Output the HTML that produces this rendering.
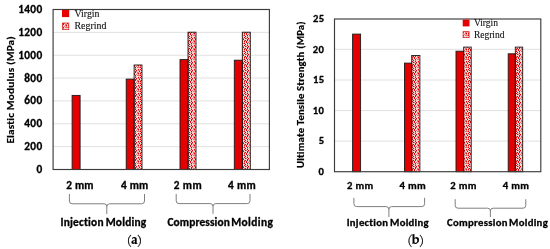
<!DOCTYPE html>
<html><head><meta charset="utf-8"><style>
html,body{margin:0;padding:0;background:#fff;}
svg{display:block;}
.b{font-family:Carlito,"Liberation Sans",sans-serif;font-weight:bold;fill:#000;stroke:#000;stroke-width:0.3px;font-variant-ligatures:none;font-feature-settings:"liga" 0,"clig" 0;}
.t{stroke-width:0.2px;}
.s{font-family:"Liberation Serif",serif;fill:#111;stroke:#111;stroke-width:0.12px;}
.p{font-family:"TeX Gyre Pagella","Liberation Serif",serif;fill:#000;letter-spacing:-1.1px;stroke:#000;stroke-width:0.2px;}
.p tspan{font-weight:bold;font-size:1.08em;}
</style></head><body>
<svg width="550" height="249" viewBox="0 0 550 249">
<defs>
<pattern id="rg" width="8" height="8" patternUnits="userSpaceOnUse">
<rect width="8" height="8" fill="#f9d3d3"/><rect x="1" y="0" width="1" height="1" fill="#ee7272"/><rect x="2" y="0" width="1" height="1" fill="#ee7272"/><rect x="4" y="0" width="1" height="1" fill="#ee7272"/><rect x="5" y="0" width="1" height="1" fill="#e40000"/><rect x="7" y="0" width="1" height="1" fill="#e40000"/><rect x="1" y="1" width="1" height="1" fill="#ee7272"/><rect x="2" y="1" width="1" height="1" fill="#e40000"/><rect x="4" y="1" width="1" height="1" fill="#e40000"/><rect x="6" y="1" width="1" height="1" fill="#e40000"/><rect x="0" y="2" width="1" height="1" fill="#ee7272"/><rect x="2" y="2" width="1" height="1" fill="#ee7272"/><rect x="4" y="2" width="1" height="1" fill="#ee7272"/><rect x="6" y="2" width="1" height="1" fill="#e40000"/><rect x="1" y="3" width="1" height="1" fill="#ee7272"/><rect x="2" y="3" width="1" height="1" fill="#ee7272"/><rect x="3" y="3" width="1" height="1" fill="#ee7272"/><rect x="4" y="3" width="1" height="1" fill="#e40000"/><rect x="7" y="3" width="1" height="1" fill="#e40000"/><rect x="5" y="4" width="1" height="1" fill="#e40000"/><rect x="7" y="4" width="1" height="1" fill="#ee7272"/><rect x="2" y="5" width="1" height="1" fill="#e40000"/><rect x="4" y="5" width="1" height="1" fill="#e40000"/><rect x="7" y="5" width="1" height="1" fill="#e40000"/><rect x="0" y="6" width="1" height="1" fill="#e40000"/><rect x="2" y="6" width="1" height="1" fill="#ee7272"/><rect x="3" y="6" width="1" height="1" fill="#ee7272"/><rect x="5" y="6" width="1" height="1" fill="#e40000"/><rect x="6" y="6" width="1" height="1" fill="#ee7272"/><rect x="0" y="7" width="1" height="1" fill="#ee7272"/><rect x="3" y="7" width="1" height="1" fill="#e40000"/><rect x="7" y="7" width="1" height="1" fill="#e40000"/>
</pattern>
</defs>
<rect width="550" height="249" fill="#fff"/>
<line x1="53.1" y1="146.64" x2="269.4" y2="146.64" stroke="#e0e0e0" stroke-width="1"/>
<line x1="53.1" y1="123.79" x2="269.4" y2="123.79" stroke="#e0e0e0" stroke-width="1"/>
<line x1="53.1" y1="100.93" x2="269.4" y2="100.93" stroke="#e0e0e0" stroke-width="1"/>
<line x1="53.1" y1="78.07" x2="269.4" y2="78.07" stroke="#e0e0e0" stroke-width="1"/>
<line x1="53.1" y1="55.21" x2="269.4" y2="55.21" stroke="#e0e0e0" stroke-width="1"/>
<line x1="53.1" y1="32.36" x2="269.4" y2="32.36" stroke="#e0e0e0" stroke-width="1"/>
<rect x="134.1" y="65" width="7.9" height="104.5" fill="url(#rg)"/>
<rect x="188" y="32.2" width="8" height="137.3" fill="url(#rg)"/>
<rect x="242.3" y="32.2" width="8" height="137.3" fill="url(#rg)"/>
<rect x="72.1" y="95.4" width="8" height="74.1" fill="#e40000" stroke="#1a1a1a" stroke-width="0.9"/>
<rect x="126.2" y="79.1" width="7.9" height="90.4" fill="#e40000" stroke="#1a1a1a" stroke-width="0.9"/>
<rect x="134.1" y="65" width="7.9" height="104.5" fill="none" stroke="#1a1a1a" stroke-width="0.9"/>
<rect x="180" y="59.6" width="8" height="109.9" fill="#e40000" stroke="#1a1a1a" stroke-width="0.9"/>
<rect x="188" y="32.2" width="8" height="137.3" fill="none" stroke="#1a1a1a" stroke-width="0.9"/>
<rect x="234.3" y="60.2" width="8" height="109.3" fill="#e40000" stroke="#1a1a1a" stroke-width="0.9"/>
<rect x="242.3" y="32.2" width="8" height="137.3" fill="none" stroke="#1a1a1a" stroke-width="0.9"/>
<rect x="53.1" y="9.5" width="216.3" height="160" fill="none" stroke="#3c3c3c" stroke-width="1.15"/>
<text x="36.4" y="173.01" class="b" font-size="11.3" textLength="5.73" lengthAdjust="spacing">0</text>
<text x="24.35" y="150.15" class="b" font-size="11.3" textLength="17.78" lengthAdjust="spacing">200</text>
<text x="24.35" y="127.29" class="b" font-size="11.3" textLength="17.78" lengthAdjust="spacing">400</text>
<text x="24.35" y="104.43" class="b" font-size="11.3" textLength="17.78" lengthAdjust="spacing">600</text>
<text x="24.35" y="81.58" class="b" font-size="11.3" textLength="17.78" lengthAdjust="spacing">800</text>
<text x="18.32" y="58.72" class="b" font-size="11.3" textLength="23.81" lengthAdjust="spacing">1000</text>
<text x="18.32" y="35.86" class="b" font-size="11.3" textLength="23.81" lengthAdjust="spacing">1200</text>
<text x="18.32" y="13.01" class="b" font-size="11.3" textLength="23.81" lengthAdjust="spacing">1400</text>
<rect x="62" y="9.9" width="7.2" height="7.2" fill="#e40000"/>
<rect x="62.4" y="23" width="6.4" height="6.4" fill="url(#rg)" stroke="#d83030" stroke-width="0.8"/>
<text x="74.5" y="17.1" class="s" font-size="9.9">Virgin</text>
<text x="74.5" y="28.9" class="s" font-size="9.9">Regrind</text>
<text x="66.22" y="188.6" class="b" font-size="11.3" textLength="27.29" lengthAdjust="spacing">2 mm</text>
<text x="121.02" y="188.6" class="b" font-size="11.3" textLength="27.2" lengthAdjust="spacing">4 mm</text>
<text x="173.82" y="188.6" class="b" font-size="11.3" textLength="27.79" lengthAdjust="spacing">2 mm</text>
<text x="228.12" y="188.6" class="b" font-size="11.3" textLength="27.7" lengthAdjust="spacing">4 mm</text>
<path d="M69.4,194 V201 Q69.4,203.8 72.2,203.8 H104 Q106.8,203.8 106.8,206.6 V214 M106.8,206.6 Q106.8,203.8 109.6,203.8 H141.7 Q144.5,203.8 144.5,201 V194" fill="none" stroke="#7f7f7f" stroke-width="1"/>
<path d="M176.2,194 V200.8 Q176.2,203.6 179,203.6 H210.2 Q213,203.6 213,206.4 V213.8 M213,206.4 Q213,203.6 215.8,203.6 H247.2 Q250,203.6 250,200.8 V194" fill="none" stroke="#7f7f7f" stroke-width="1"/>
<text x="60.42" y="226.2" class="b" font-size="11.4" textLength="43.08" lengthAdjust="spacing">Injection</text>
<text x="105.63" y="226.2" class="b" font-size="11.4" textLength="40.6" lengthAdjust="spacing">Molding</text>
<text x="167.47" y="226.2" class="b" font-size="11.4" textLength="62.33" lengthAdjust="spacing">Compression</text>
<text x="231.13" y="226.2" class="b" font-size="11.4" textLength="41.8" lengthAdjust="spacing">Molding</text>
<text transform="translate(14,143.55) rotate(-90) scale(1,0.95)" class="b t" font-size="11.3" textLength="107.44" lengthAdjust="spacing">Elastic Modulus (MPa)</text>
<text x="133.9" y="244.2" text-anchor="middle" class="p" font-size="12.4">(<tspan>a</tspan>)</text>
<line x1="334.5" y1="49.3" x2="540.8" y2="49.3" stroke="#e0e0e0" stroke-width="1"/>
<line x1="334.5" y1="80" x2="540.8" y2="80" stroke="#e0e0e0" stroke-width="1"/>
<line x1="334.5" y1="110.6" x2="540.8" y2="110.6" stroke="#e0e0e0" stroke-width="1"/>
<line x1="334.5" y1="141.1" x2="540.8" y2="141.1" stroke="#e0e0e0" stroke-width="1"/>
<rect x="411.7" y="55.5" width="8.2" height="116.2" fill="url(#rg)"/>
<rect x="463.7" y="47.1" width="7.5" height="124.6" fill="url(#rg)"/>
<rect x="515.3" y="47.1" width="7.4" height="124.6" fill="url(#rg)"/>
<rect x="352.6" y="34.1" width="8" height="137.6" fill="#e40000" stroke="#1a1a1a" stroke-width="0.9"/>
<rect x="404.5" y="63.1" width="7.2" height="108.6" fill="#e40000" stroke="#1a1a1a" stroke-width="0.9"/>
<rect x="411.7" y="55.5" width="8.2" height="116.2" fill="none" stroke="#1a1a1a" stroke-width="0.9"/>
<rect x="456" y="51.2" width="7.7" height="120.5" fill="#e40000" stroke="#1a1a1a" stroke-width="0.9"/>
<rect x="463.7" y="47.1" width="7.5" height="124.6" fill="none" stroke="#1a1a1a" stroke-width="0.9"/>
<rect x="508.2" y="53.8" width="7.1" height="117.9" fill="#e40000" stroke="#1a1a1a" stroke-width="0.9"/>
<rect x="515.3" y="47.1" width="7.4" height="124.6" fill="none" stroke="#1a1a1a" stroke-width="0.9"/>
<rect x="334.5" y="19" width="206.3" height="152.7" fill="none" stroke="#3c3c3c" stroke-width="1.15"/>
<text x="318.44" y="174.88" class="b" font-size="10.6" textLength="5.37" lengthAdjust="spacing">0</text>
<text x="318.77" y="144.38" class="b" font-size="10.6" textLength="5.37" lengthAdjust="spacing">5</text>
<text x="312.77" y="113.88" class="b" font-size="10.6" textLength="11.04" lengthAdjust="spacing">10</text>
<text x="313.09" y="83.38" class="b" font-size="10.6" textLength="11.04" lengthAdjust="spacing">15</text>
<text x="312.77" y="52.88" class="b" font-size="10.6" textLength="11.04" lengthAdjust="spacing">20</text>
<text x="313.09" y="22.38" class="b" font-size="10.6" textLength="11.04" lengthAdjust="spacing">25</text>
<rect x="462.7" y="19.6" width="6.8" height="6.8" fill="#e40000"/>
<rect x="463.1" y="31.6" width="6" height="6" fill="url(#rg)" stroke="#d83030" stroke-width="0.8"/>
<text x="473.9" y="26.2" class="s" font-size="9.5">Virgin</text>
<text x="473.9" y="37.6" class="s" font-size="9.5">Regrind</text>
<text x="347.04" y="189.1" class="b" font-size="10.7" textLength="26.24" lengthAdjust="spacing">2 mm</text>
<text x="399.52" y="189.1" class="b" font-size="10.7" textLength="26.06" lengthAdjust="spacing">4 mm</text>
<text x="450.14" y="189.1" class="b" font-size="10.7" textLength="26.24" lengthAdjust="spacing">2 mm</text>
<text x="502.72" y="189.1" class="b" font-size="10.7" textLength="26.16" lengthAdjust="spacing">4 mm</text>
<path d="M353.9,197.8 V203.8 Q353.9,206.6 356.7,206.6 H386.1 Q388.9,206.6 388.9,209.4 V217 M388.9,209.4 Q388.9,206.6 391.7,206.6 H421.8 Q424.6,206.6 424.6,203.8 V197.8" fill="none" stroke="#7f7f7f" stroke-width="1"/>
<path d="M455.2,199.2 V205.4 Q455.2,208.2 458,208.2 H487.6 Q490.4,208.2 490.4,211 V217 M490.4,211 Q490.4,208.2 493.2,208.2 H523 Q525.8,208.2 525.8,205.4 V199.2" fill="none" stroke="#7f7f7f" stroke-width="1"/>
<text x="346.66" y="226.4" class="b" font-size="10.7" textLength="41.4" lengthAdjust="spacing">Injection</text>
<text x="390.07" y="226.4" class="b" font-size="10.7" textLength="38.44" lengthAdjust="spacing">Molding</text>
<text x="447.08" y="226.4" class="b" font-size="10.7" textLength="60.38" lengthAdjust="spacing">Compression</text>
<text x="509.07" y="226.4" class="b" font-size="10.7" textLength="38.64" lengthAdjust="spacing">Molding</text>
<text transform="translate(304,167.99) rotate(-90) scale(1,0.92)" class="b t" font-size="10.7" textLength="146.64" lengthAdjust="spacing">Ultimate Tensile Strength (MPa)</text>
<text x="415.2" y="243.8" text-anchor="middle" class="p" font-size="12.5">(<tspan>b</tspan>)</text>
</svg>
</body></html>
